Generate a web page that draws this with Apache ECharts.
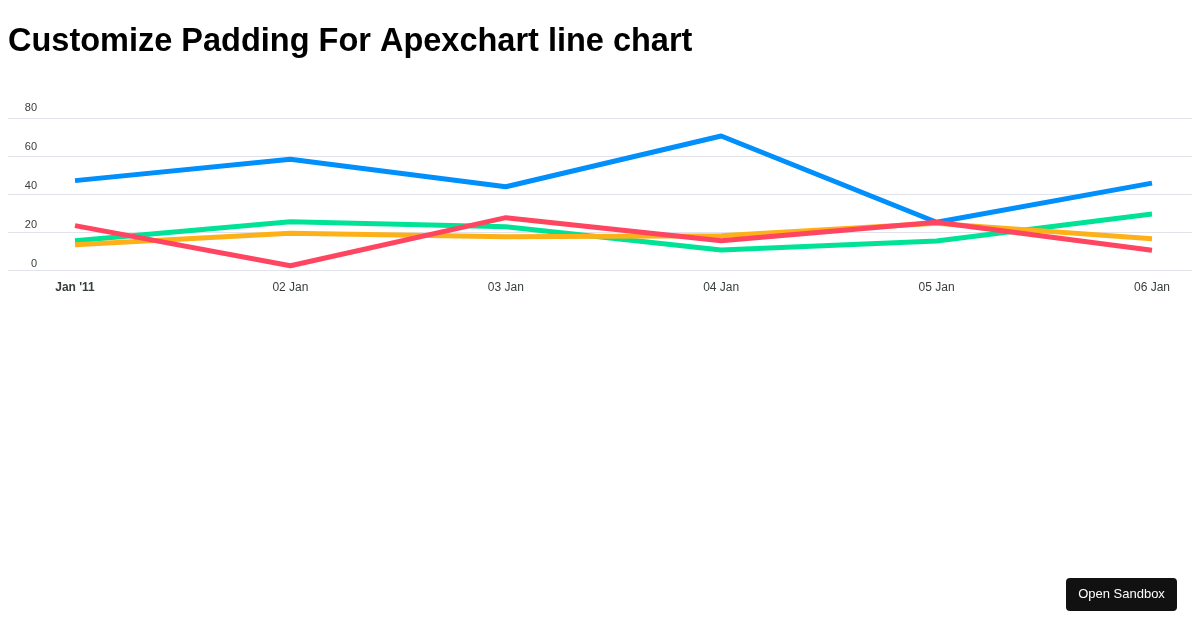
<!DOCTYPE html>
<html>
<head>
<meta charset="utf-8">
<script src="https://cdn.jsdelivr.net/npm/echarts@6/dist/echarts.min.js"></script>
<style>
html,body{margin:0;padding:0;background:#fff;}
#c{width:1200px;height:630px;}
</style>
</head>
<body>
<div id="c"></div>
<script>
const categories = ["Jan '11", "02 Jan", "03 Jan", "04 Jan", "05 Jan", "06 Jan"];
const series1 = [47.2, 58.4, 44, 70.7, 25.3, 45.9];
const series2 = [15.6, 25.6, 22.9, 10.7, 15.4, 29.6];
const series3 = [13.5, 19.5, 17.7, 18.2, 24.7, 16.6];
const series4 = [23.5, 2.4, 27.7, 15.6, 25.3, 10.5];
const yTicks = [0, 20, 40, 60, 80];
const seriesNames = ["Series 1", "Series 2", "Series 3", "Series 4"];
const colors = ["#008FFB", "#00E396", "#FEB019", "#FF4560"];

const font = "'Liberation Sans', Arial, Helvetica, sans-serif";
const chart = echarts.init(document.getElementById('c'));
const allSeries = [series1, series2, series3, series4];
const yMin = yTicks[0], yMax = yTicks[yTicks.length - 1], yStep = yTicks[1] - yTicks[0];

chart.setOption({
  animation: false,
  backgroundColor: '#fff',
  title: {
    text: 'Customize Padding For Apexchart line chart',
    left: 8, top: 26, padding: 0,
    textStyle: { fontFamily: font, fontWeight: 'bold', fontSize: 32.5, color: '#000' }
  },
  grid: [
    { left: 8, right: 8, top: 118.3, height: 152 },
    { left: 75, right: 48, top: 118.3, height: 152 },
    { left: 75, right: 48, top: 108.3, height: 156 }
  ],
  xAxis: [
    { gridIndex: 0, type: 'category', data: categories, show: false },
    {
      gridIndex: 1, type: 'category', data: categories, boundaryGap: false,
      axisLine: { show: false }, axisTick: { show: false }, splitLine: { show: false },
      axisLabel: {
        margin: 11, fontFamily: font, fontSize: 12, color: '#373d3f',
        formatter: function (v, i) { return i === 0 ? '{b|' + v + '}' : v; },
        rich: { b: { fontWeight: 'bold', fontFamily: font, fontSize: 12, color: '#373d3f' } }
      }
    },
    { gridIndex: 2, type: 'category', data: categories, show: false }
  ],
  yAxis: [
    {
      gridIndex: 0, type: 'value', min: yMin, max: yMax, interval: yStep,
      axisLine: { show: false }, axisTick: { show: false }, axisLabel: { show: false },
      splitLine: { show: true, lineStyle: { color: '#e2e2ea', width: 1 } }
    },
    {
      gridIndex: 1, type: 'value', min: yMin, max: yMax, interval: yStep,
      axisLine: { show: false }, axisTick: { show: false }, splitLine: { show: false },
      axisLabel: { show: false }
    },
    {
      gridIndex: 2, type: 'value', min: yMin, max: yMax, interval: yStep,
      axisLine: { show: false }, axisTick: { show: false }, splitLine: { show: false },
      axisLabel: { margin: 38, align: 'right', fontFamily: font, fontSize: 11, color: '#373d3f' }
    }
  ],
  series: allSeries.map((d, i) => ({
    name: seriesNames[i], type: 'line', xAxisIndex: 1, yAxisIndex: 1,
    data: d, showSymbol: false, symbol: 'none',
    lineStyle: { width: 5, color: colors[i] }, itemStyle: { color: colors[i] },
    z: 2 + i
  })),
  graphic: [
    {
      type: 'group', left: 1066, top: 578,
      children: [
        { type: 'rect', shape: { x: 0, y: 0, width: 111, height: 33, r: 4 }, style: { fill: '#111111' } },
        { type: 'text', x: 55.5, y: 16.5, style: { text: 'Open Sandbox', fill: '#fff', font: '13px ' + font, textAlign: 'center', textVerticalAlign: 'middle' } }
      ]
    }
  ]
});
</script>
</body>
</html>
